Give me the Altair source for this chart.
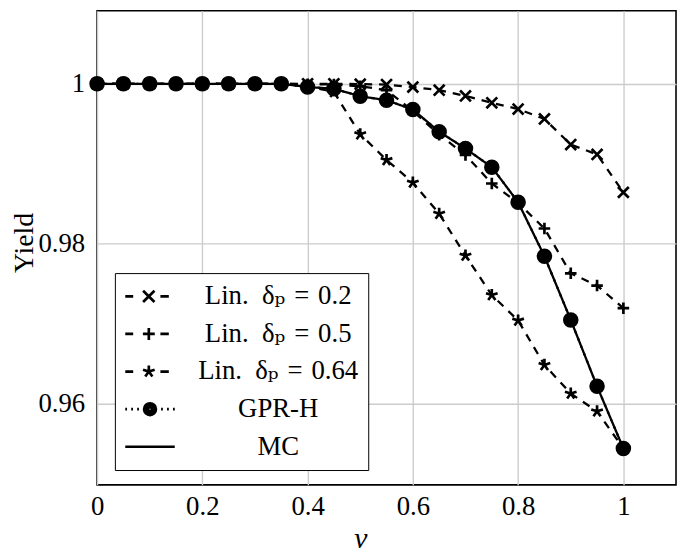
import altair as alt
import pandas as pd

# ---- data ----
v = [0.0, 0.05, 0.1, 0.15, 0.2, 0.25, 0.3, 0.35, 0.4, 0.45, 0.5,
     0.55, 0.6, 0.65, 0.7, 0.75, 0.8, 0.85, 0.9, 0.95, 1.0]

lin_02 = [1.0, 1.0, 1.0, 1.0, 1.0, 1.0, 1.0, 1.0, 1.0, 1.0, 0.99995,
          0.9999, 0.99959, 0.9992, 0.99848, 0.99762, 0.99684, 0.9956, 0.9924, 0.99116, 0.98642]
lin_05 = [1.0, 1.0, 1.0, 1.0, 1.0, 1.0, 1.0, 1.0, 0.99995, 0.9999, 0.9997,
          0.9992, 0.9966, 0.99363, 0.9911, 0.98753, 0.9851, 0.9819, 0.9763, 0.97477, 0.97194]
lin_064 = [1.0, 1.0, 1.0, 1.0, 1.0, 1.0, 1.0, 1.0, 0.9997, 0.99897, 0.99369,
           0.99047, 0.98765, 0.98375, 0.97852, 0.97358, 0.9704, 0.96484, 0.96127, 0.95905, 0.9544]
gpr_h = [1.0, 1.0, 1.0, 1.0, 1.0, 1.0, 1.0, 1.0, 0.99959, 0.99938, 0.99844,
         0.99794, 0.99678, 0.9940, 0.9919, 0.98957, 0.98519, 0.97844, 0.97047, 0.96217, 0.9544]
mc = [1.0, 1.0, 1.0, 1.0, 1.0, 1.0, 1.0, 1.0, 0.99959, 0.99938, 0.99844,
      0.99794, 0.99678, 0.9940, 0.9919, 0.98957, 0.98519, 0.97844, 0.97047, 0.96217, 0.9544]

series_names = ["Lin.\u2002δₚ\u2004=\u20040.2", "Lin.\u2002δₚ\u2004=\u20040.5",
                "Lin.\u2002δₚ\u2004=\u20040.64", "GPR-H", "MC"]
series_values = [lin_02, lin_05, lin_064, gpr_h, mc]

x_ticks = [0.0, 0.2, 0.4, 0.6, 0.8, 1.0]
y_ticks = [0.96, 0.98, 1.0]

rows = []
for name, ys in zip(series_names, series_values):
    for x, y in zip(v, ys):
        rows.append({"series": name, "v": x, "yield": y})
df = pd.DataFrame(rows)

FONT = "Liberation Serif, Times New Roman, DejaVu Serif, serif"

# marker shapes (unit square paths)
X_PATH = "M-1,-1L1,1M-1,1L1,-1"
PLUS_PATH = "M-1,0L1,0M0,-1L0,1"
STAR_PATH = "M0,0L0,-1M0,0L0.951,-0.309M0,0L0.588,0.809M0,0L-0.588,0.809M0,0L-0.951,-0.309"
marker_series = series_names[:4]


# legend symbol paths (dash - marker - dash); symbol size 400 -> unit = 10 px
def lin_sym(marker):
    return "M-2.5,0L-1.7,0M1.05,0L1.9,0" + marker


def ring(r):
    return f"M{r},0A{r},{r} 0 1,1 {-r},0A{r},{r} 0 1,1 {r},0Z"


LEG_X = lin_sym("M-0.7,-0.57L0.45,0.57M-0.7,0.57L0.45,-0.57")
LEG_PLUS = lin_sym("M-0.72,0L0.48,0M-0.12,-0.6L-0.12,0.6")
LEG_STAR = lin_sym("M-0.12,0L-0.12,-0.62M-0.12,0L0.47,-0.19M-0.12,0L0.24,0.5"
                   "M-0.12,0L-0.48,0.5M-0.12,0L-0.71,-0.19")
LEG_GPR = ("M-2.5,0L-2.32,0M-1.9,0L-1.72,0M-1.3,0L-1.12,0"
           "M1.12,0L1.3,0M1.72,0L1.9,0M2.32,0L2.5,0"
           + ring(0.6) + ring(0.42) + ring(0.24) + ring(0.08))
LEG_MC = "M-2.5,0L2.5,0"
leg_paths = [LEG_X, LEG_PLUS, LEG_STAR, LEG_GPR, LEG_MC]

legend = alt.Legend(
    title=None,
    orient="none",
    legendX=18,
    legendY=265,
    symbolSize=400,
    symbolOffset=12,
    symbolStrokeWidth=2.7,
    symbolOpacity=1,
    labelFont=FONT,
    labelFontSize=27,
    labelColor="black",
    labelAlign="center",
    labelOffset=116,
    labelLimit=0,
    padding=10,
    rowPadding=10,
    strokeColor="black",
    fillColor="white",
)

x_enc = alt.X(
    "v:Q",
    scale=alt.Scale(domain=[0, 1.1], nice=False, zero=False),
    axis=alt.Axis(
        values=x_ticks,
        format="~g",
        title="v",
        titleFont=FONT,
        titleFontSize=30,
        titleFontStyle="italic",
        titleFontWeight="normal",
        titleX=266,
        titleY=63,
        titleBaseline="alphabetic",
        labelBaseline="alphabetic",
        labelPadding=30,
        labelFlush=False,
    ),
)
y_enc = alt.Y(
    "yield:Q",
    scale=alt.Scale(domain=[0.94985, 1.00912], nice=False, zero=False),
    axis=alt.Axis(
        values=y_ticks,
        format="~g",
        title="Yield",
        titleFont=FONT,
        titleFontSize=28,
        titleFontWeight="normal",
        titleAngle=270,
        titleX=-65,
        titleY=234,
        titleBaseline="alphabetic",
        labelPadding=12.5,
    ),
)

lines = alt.Chart(df).mark_line(color="black", strokeWidth=2.3).encode(
    x=x_enc,
    y=y_enc,
    strokeDash=alt.StrokeDash(
        "series:N",
        scale=alt.Scale(domain=series_names,
                        range=[[8, 7], [8, 7], [8, 7], [2, 6], [1, 0]]),
        legend=None,
    ),
    detail="series:N",
)

points = alt.Chart(df).transform_filter(
    alt.datum.series != "MC"
).mark_point(filled=False, color="black", strokeWidth=2.7, opacity=1).encode(
    x=x_enc,
    y=y_enc,
    shape=alt.Shape("series:N",
                    scale=alt.Scale(domain=marker_series,
                                    range=[X_PATH, PLUS_PATH, STAR_PATH, "circle"]),
                    legend=None),
    size=alt.Size("series:N",
                  scale=alt.Scale(domain=marker_series, range=[120, 169, 169, 235]),
                  legend=None),
    fill=alt.Fill("series:N",
                  scale=alt.Scale(domain=marker_series,
                                  range=["transparent", "transparent", "transparent", "black"]),
                  legend=None),
)

# legend-only layer: no data drawn, the explicit domain builds the legend
legend_layer = alt.Chart(df).transform_filter("false").mark_point(
    filled=False, color="black", strokeWidth=2.7, opacity=1, size=400
).encode(
    x=x_enc,
    y=y_enc,
    shape=alt.Shape("series:N",
                    scale=alt.Scale(domain=series_names, range=leg_paths),
                    legend=legend),
)

chart = alt.layer(lines, points, legend_layer).resolve_scale(
    shape="independent", size="independent", fill="independent", strokeDash="independent"
).properties(
    width=585,
    height=479,
    autosize=alt.AutoSizeParams(type="none"),
    padding={"left": 90, "top": 0, "right": 1, "bottom": 68},
).configure_view(
    stroke="black", strokeWidth=1.6
).configure_axis(
    grid=True,
    gridColor="#cccccc",
    gridWidth=1.4,
    domain=False,
    ticks=False,
    tickSize=0,
    labelFont=FONT,
    labelFontSize=27,
    labelColor="black",
    titleColor="black",
)

chart.save("out.html", embed_options={"renderer": "svg", "actions": False})
